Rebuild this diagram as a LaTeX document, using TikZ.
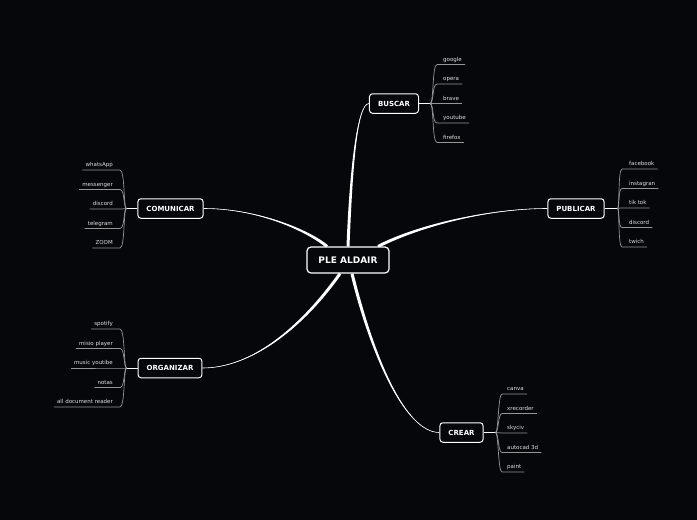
\documentclass[tikz,border=0pt]{standalone}
\usepackage{fontspec}
\setmainfont{DejaVu Sans}
\usepackage{tikz}
\usetikzlibrary{positioning,calc}
\definecolor{board}{RGB}{6,7,10}
\definecolor{twiggray}{RGB}{150,150,150}
\pgfdeclarelayer{links}
\pgfsetlayers{links,main}
% tapered main branch: start, control 1, control 2, end, half width
\newcommand{\limb}[5]{%
  \fill[white] ($#1+#5$) .. controls ($#2+#5$) and #3 .. #4
    .. controls #3 and ($#2-#5$) .. ($#1-#5$) -- cycle;
  \draw[white, line width=.6pt] #1 .. controls #2 and #3 .. #4;}
\tikzset{
  hub/.style={draw=white, line width=1.2pt, rounded corners=4pt, fill=board, text=white,
              font=\fontsize{9}{10}\selectfont\bfseries, minimum width=82pt, minimum height=26pt},
  topic/.style={draw=white, line width=1pt, rounded corners=3pt, fill=board, text=white,
                font=\fontsize{7}{8}\selectfont\bfseries, inner xsep=8.5pt, minimum height=19.5pt},
  leaf/.style={text=white!88!black, font=\fontsize{5.5}{6}\selectfont, inner xsep=0pt,
               inner ysep=1.5pt, text height=4pt, text depth=1.5pt},
  stem/.style={white, line width=1pt},
  twig/.style={twiggray, line width=.7pt},
}
\begin{document}
\begin{tikzpicture}[x=1pt, y=-1pt]
  \begin{pgfonlayer}{links}
    \fill[board] (0,0) rectangle (697,520);
  \end{pgfonlayer}
  \useasboundingbox (0,0) rectangle (697,520);

  \node[hub] (ple) at (348,260) {PLE ALDAIR};
  \node[topic] (buscar) at (394,103.5) {BUSCAR};
  \node[topic] (comunicar) at (170.5,208.5) {COMUNICAR};
  \node[topic] (publicar) at (576,208.5) {PUBLICAR};
  \node[topic] (organizar) at (170,368) {ORGANIZAR};
  \node[topic] (crear) at (461.5,432.5) {CREAR};

  \begin{pgfonlayer}{links}
    \limb{(ple.north)}{(351,170)}{(357,103.5)}{(buscar.west)}{(1.5,0)}
    \limb{([xshift=-21pt]ple.north)}{(310,232)}{(260,208.5)}{(comunicar.east)}{(1.0,-1.1)}
    \limb{([xshift=30pt]ple.north)}{(420,225)}{(490,208.5)}{(publicar.west)}{(0.7,1.3)}
    \limb{([xshift=-8pt]ple.south)}{(300,330)}{(250,368)}{(organizar.east)}{(1.2,0.9)}
    \limb{([xshift=4pt]ple.south)}{(372,355)}{(405,432.5)}{(crear.west)}{(1.5,-0.35)}
  \end{pgfonlayer}

  % junctions of the leaf fans
  \coordinate[right=11pt of buscar] (jb);
  \coordinate[left=11pt of comunicar] (jc);
  \coordinate[right=13pt of publicar] (jp);
  \coordinate[left=11pt of organizar] (jo);
  \coordinate[right=12pt of crear] (jr);
  \draw[stem] (buscar.east) -- (jb);
  \draw[stem] (comunicar.west) -- (jc);
  \draw[stem] (publicar.east) -- (jp);
  \draw[stem] (organizar.west) -- (jo);
  \draw[stem] (crear.east) -- (jr);

  \foreach \t [count=\i] in {google,opera,brave,youtube,firefox}{
    \node[leaf, anchor=south west] (b\i) at (443,45+19.5*\i) {\t};
    \draw[twig] (jb) .. controls +(4,0) and +(-5,0) .. ([xshift=-6pt]b\i.south west) -- ([xshift=3pt]b\i.south east);
  }
  \foreach \t [count=\i] in {whatsApp,messenger,discord,telegram,ZOOM}{
    \node[leaf, anchor=south east] (c\i) at (113,150.5+19.5*\i) {\t};
    \draw[twig] (jc) .. controls +(-3,0) and +(5,0) .. ([xshift=7pt]c\i.south east) -- ([xshift=-3pt]c\i.south west);
  }
  \foreach \t [count=\i] in {facebook,instagran,tik tok,discord,twich}{
    \node[leaf, anchor=south west] (p\i) at (629,149.5+19.5*\i) {\t};
    \draw[twig] (jp) .. controls +(2,0) and +(-4,0) .. ([xshift=-7pt]p\i.south west) -- ([xshift=3pt]p\i.south east);
  }
  \foreach \t [count=\i] in {spotify,misio player,music youtibe,notas,all document reader}{
    \node[leaf, anchor=south east] (o\i) at (113,309.5+19.5*\i) {\t};
    \draw[twig] (jo) .. controls +(-3,0) and +(5,0) .. ([xshift=7pt]o\i.south east) -- ([xshift=-3pt]o\i.south west);
  }
  \foreach \t [count=\i] in {canva,xrecorder,skyciv,autocad 3d,paint}{
    \node[leaf, anchor=south west] (r\i) at (507,374.5+19.5*\i) {\t};
    \draw[twig] (jr) .. controls +(3,0) and +(-4,0) .. ([xshift=-5pt]r\i.south west) -- ([xshift=3pt]r\i.south east);
  }
\end{tikzpicture}
\end{document}
